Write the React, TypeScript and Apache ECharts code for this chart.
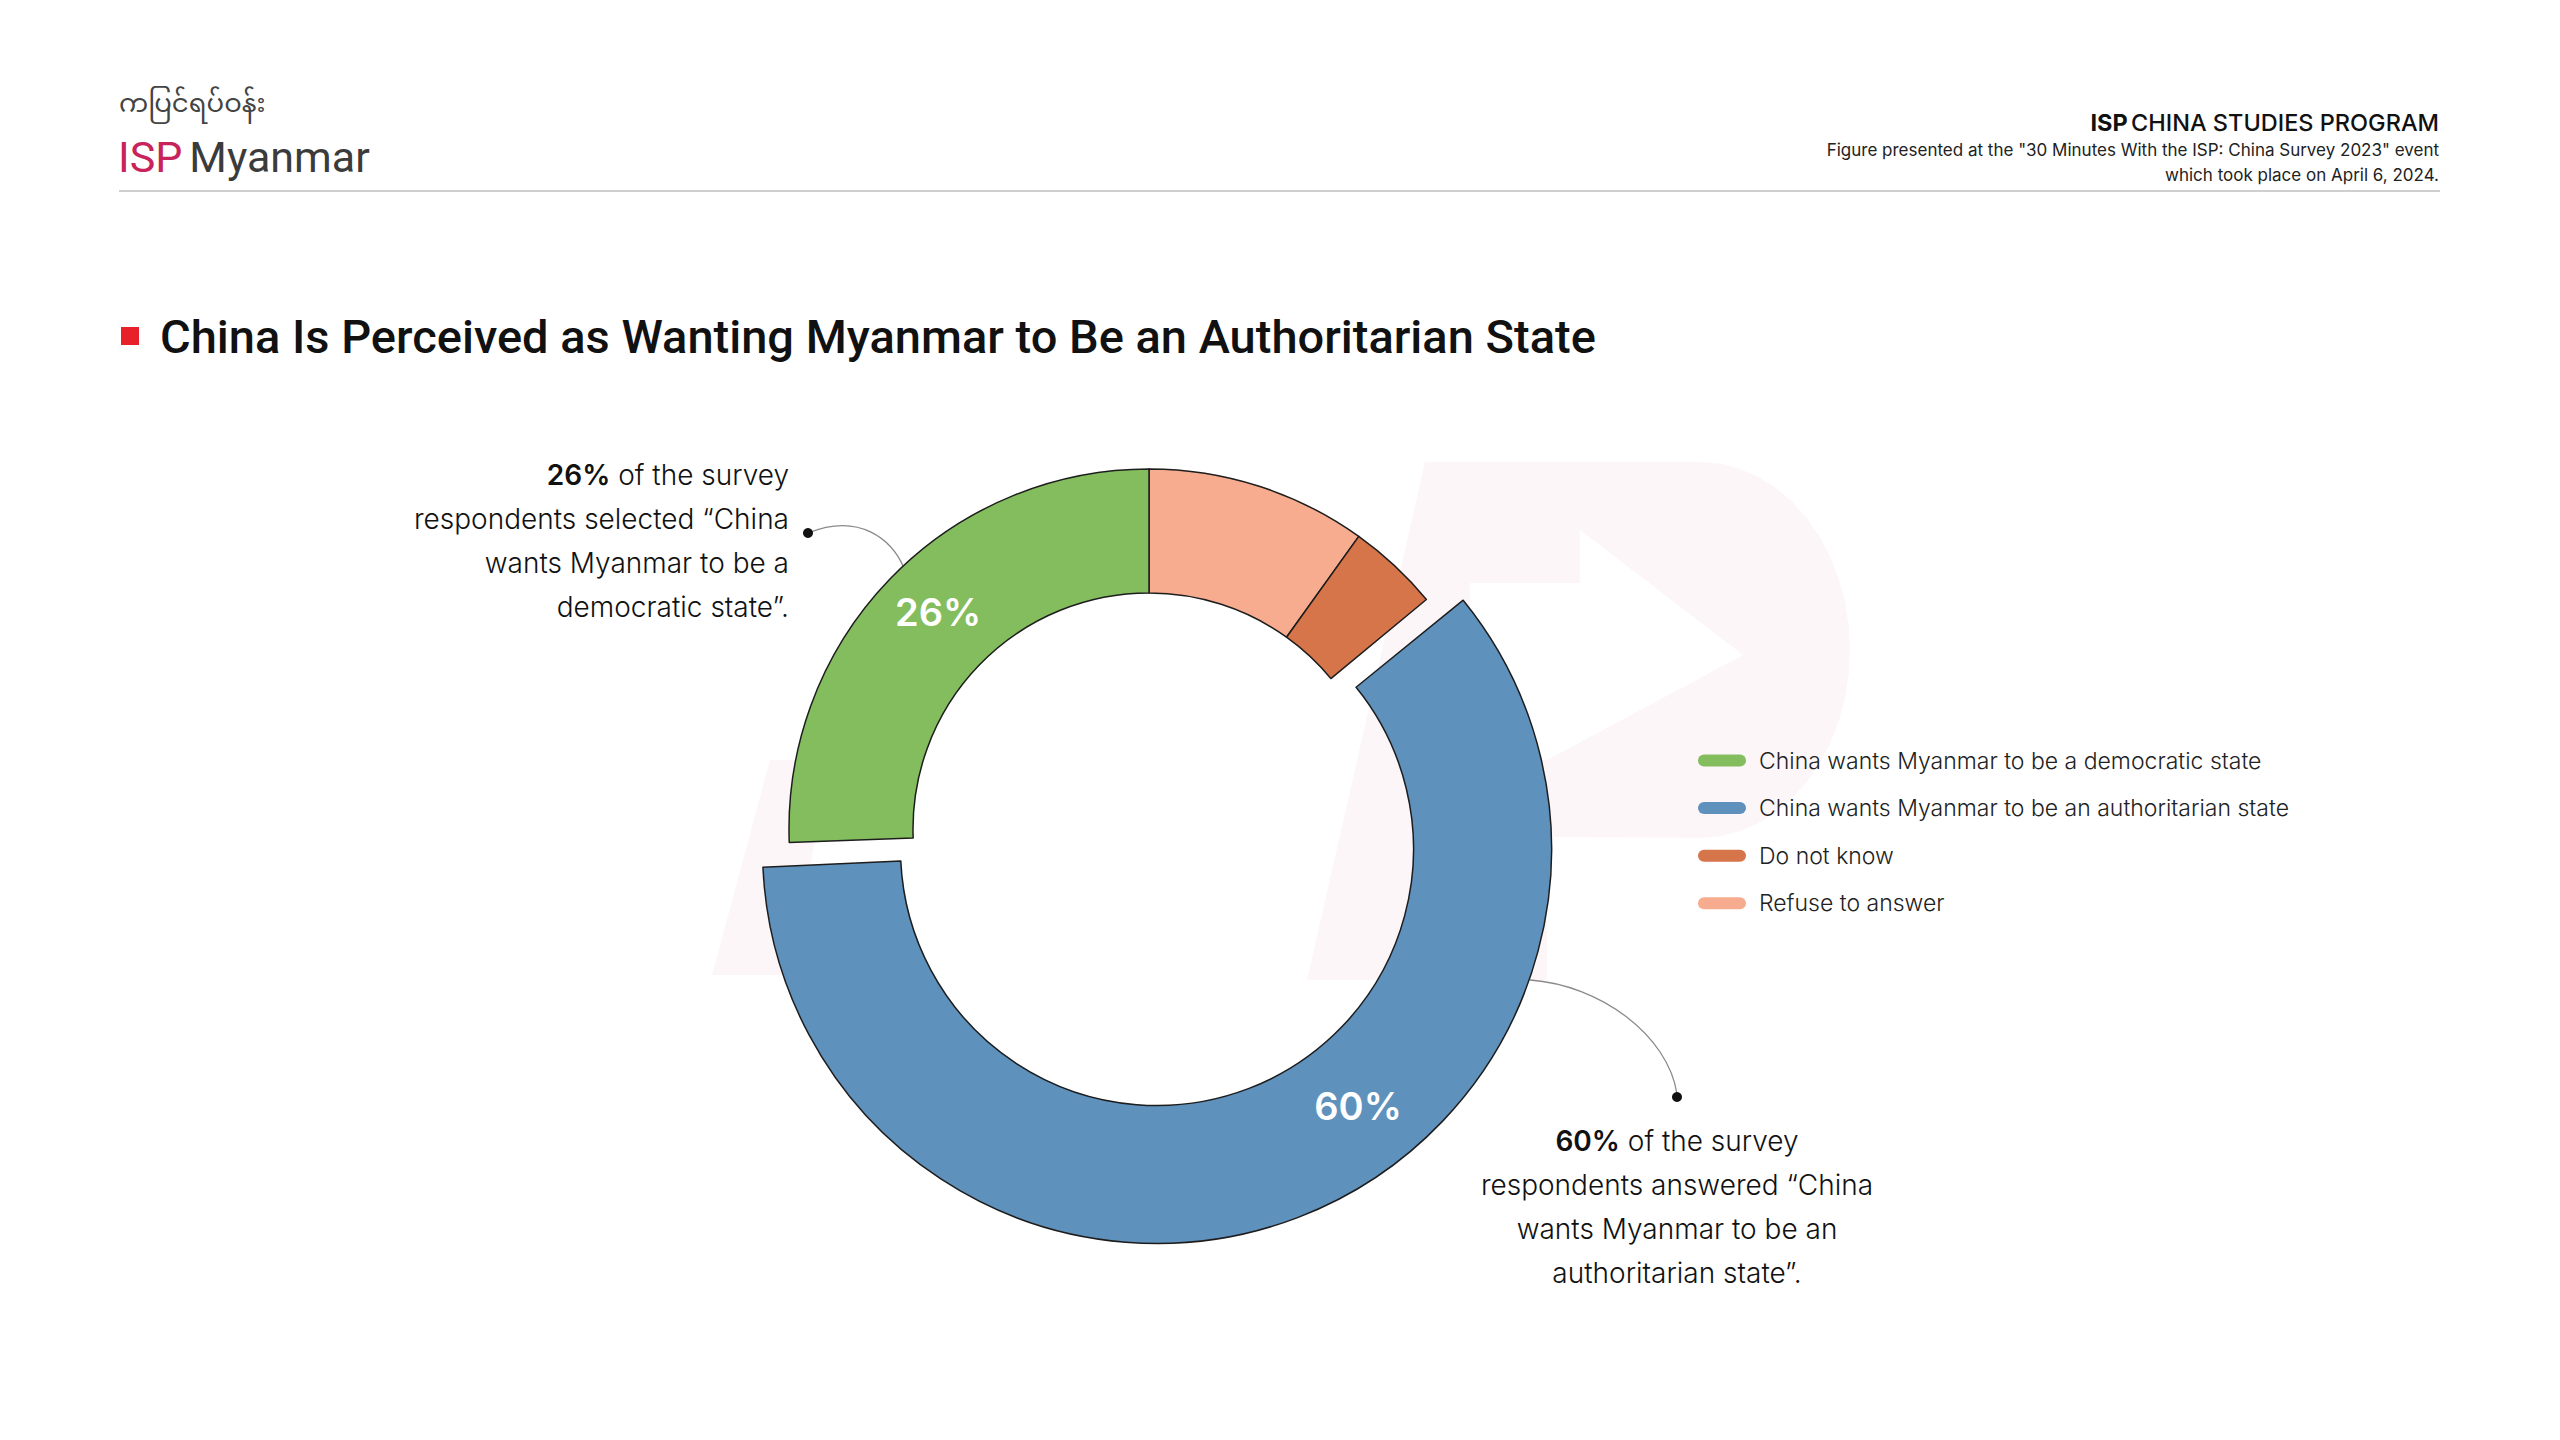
import React, { useEffect, useRef } from 'react';
import * as echarts from 'echarts';

// ---------- data ----------
const categories = [
  'Refuse to answer',
  'Do not know',
  'China wants Myanmar to be an authoritarian state',
  'China wants Myanmar to be a democratic state',
];
const values = [9.9, 4.1, 60.4, 25.6];
const valueLabels = ['10%', '4%', '60%', '26%'];
const showValueLabel = [false, false, true, true];
const colors = ['#f7ac8f', '#d6744a', '#5f91bd', '#84bd5e'];
const emphasizedIndex = 2;
const legendOrder = [
  'China wants Myanmar to be a democratic state',
  'China wants Myanmar to be an authoritarian state',
  'Do not know',
  'Refuse to answer',
];

const brandLocal = 'ကပြင်ရပ်ဝန်း';
const brandA = 'ISP';
const brandB = 'Myanmar';
const programBold = 'ISP';
const programRest = 'CHINA STUDIES PROGRAM';
const noteLine1 = 'Figure presented at the "30 Minutes With the ISP: China Survey 2023" event';
const noteLine2 = 'which took place on April 6, 2024.';
const chartTitle = 'China Is Perceived as Wanting Myanmar to Be an Authoritarian State';
const leftLead = '26%';
const leftLines = [' of the survey', 'respondents selected “China', 'wants Myanmar to be a', 'democratic state”.'];
const rightLead = '60%';
const rightLines = [' of the survey', 'respondents answered “China', 'wants Myanmar to be an', 'authoritarian state”.'];

const BODY_FONT = 'Inter, "Noto Sans", sans-serif';
const TITLE_FONT = 'Roboto, Inter, sans-serif';

function buildWatermark() {
  const pink = '#fdf6f8';
  const pts: number[][] = [];
  pts.push([1425, 462]);
  pts.push([1700, 462]);
  for (let k = 0; k <= 24; k++) {
    const a = -Math.PI / 2 + (Math.PI * k) / 24;
    pts.push([1700 + 150 * Math.cos(a), 650 + 188 * Math.sin(a)]);
  }
  pts.push([1547, 837]);
  pts.push([1547, 980]);
  pts.push([1307, 980]);
  return [
    { type: 'polygon', z: -10, silent: true, shape: { points: pts }, style: { fill: pink } },
    {
      type: 'polygon', z: -9, silent: true,
      shape: { points: [[1580, 530], [1743, 655], [1547, 760], [1470, 760], [1470, 583], [1580, 583]] },
      style: { fill: '#ffffff' },
    },
    {
      type: 'polygon', z: -10, silent: true,
      shape: { points: [[712, 975], [770, 760], [830, 760], [790, 975]] },
      style: { fill: pink },
    },
  ];
}

function buildGraphics() {
  const g: any[] = [...buildWatermark()];
  // brand
  g.push({
    type: 'text', x: 119, y: 106, silent: true,
    style: { text: brandLocal, fontSize: 26, fontFamily: '"Noto Sans Myanmar", Padauk, "Noto Sans", sans-serif', fill: '#444', textVerticalAlign: 'middle' },
  });
  g.push({
    type: 'text', x: 118, y: 157, silent: true,
    style: {
      text: `{a|${brandA}}{b|${brandB}}`, textVerticalAlign: 'middle',
      rich: {
        a: { fontSize: 43, fontFamily: TITLE_FONT, fill: '#c8235a' },
        b: { fontSize: 43, fontFamily: TITLE_FONT, fill: '#3b3b3b', padding: [0, 0, 0, 7] },
      },
    },
  });
  // separator
  g.push({ type: 'line', silent: true, shape: { x1: 119, y1: 191, x2: 2440, y2: 191 }, style: { stroke: '#cfcfcf', lineWidth: 2 } });
  // program header
  g.push({
    type: 'text', x: 2439, y: 122, silent: true,
    style: {
      text: `{a|${programBold}} {b|${programRest}}`, textAlign: 'right', textVerticalAlign: 'middle',
      rich: {
        a: { fontSize: 23.5, fontWeight: 700, fontFamily: BODY_FONT, fill: '#111' },
        b: { fontSize: 23.5, fontWeight: 500, fontFamily: BODY_FONT, fill: '#111' },
      },
    },
  });
  g.push({ type: 'text', x: 2439, y: 150, silent: true, style: { text: noteLine1, fontSize: 17, fontFamily: BODY_FONT, fill: '#222', textAlign: 'right', textVerticalAlign: 'middle' } });
  g.push({ type: 'text', x: 2439, y: 175, silent: true, style: { text: noteLine2, fontSize: 17, fontFamily: BODY_FONT, fill: '#222', textAlign: 'right', textVerticalAlign: 'middle' } });
  // title
  g.push({ type: 'rect', silent: true, shape: { x: 121, y: 327, width: 18, height: 18 }, style: { fill: '#e8202a' } });
  g.push({ type: 'text', x: 160, y: 336, silent: true, style: { text: chartTitle, fontSize: 47, fontWeight: 500, fontFamily: TITLE_FONT, fill: '#111', textVerticalAlign: 'middle' } });

  // left annotation
  const leftY = [475, 519, 563, 607];
  leftLines.forEach((line, i) => {
    g.push({
      type: 'text', x: 789, y: leftY[i], silent: true,
      style: i === 0
        ? {
          text: `{b|${leftLead}}{n|${line}}`, textAlign: 'right', textVerticalAlign: 'middle',
          rich: {
            b: { fontSize: 28, fontWeight: 600, fontFamily: BODY_FONT, fill: '#111' },
            n: { fontSize: 28, fontWeight: 300, fontFamily: BODY_FONT, fill: '#111' },
          },
        }
        : { text: line, fontSize: 28, fontWeight: 300, fontFamily: BODY_FONT, fill: '#111', textAlign: 'right', textVerticalAlign: 'middle' },
    });
  });
  g.push({ type: 'bezierCurve', silent: true, shape: { x1: 808, y1: 533, cpx1: 860, cpy1: 512, cpx2: 892, cpy2: 540, x2: 904, y2: 568 }, style: { stroke: '#8a8a8a', lineWidth: 1.3, fill: null } });
  g.push({ type: 'circle', silent: true, shape: { cx: 808, cy: 533, r: 5 }, style: { fill: '#111' } });

  // right annotation
  const rightY = [1141, 1185, 1229, 1273];
  rightLines.forEach((line, i) => {
    g.push({
      type: 'text', x: 1677, y: rightY[i], silent: true,
      style: i === 0
        ? {
          text: `{b|${rightLead}}{n|${line}}`, textAlign: 'center', textVerticalAlign: 'middle',
          rich: {
            b: { fontSize: 28, fontWeight: 600, fontFamily: BODY_FONT, fill: '#111' },
            n: { fontSize: 28, fontWeight: 300, fontFamily: BODY_FONT, fill: '#111' },
          },
        }
        : { text: line, fontSize: 28, fontWeight: 300, fontFamily: BODY_FONT, fill: '#111', textAlign: 'center', textVerticalAlign: 'middle' },
    });
  });
  g.push({ type: 'bezierCurve', silent: true, shape: { x1: 1530, y1: 980, cpx1: 1600, cpy1: 985, cpx2: 1668, cpy2: 1035, x2: 1677, y2: 1094 }, style: { stroke: '#8a8a8a', lineWidth: 1.3, fill: null } });
  g.push({ type: 'circle', silent: true, shape: { cx: 1677, cy: 1097, r: 5 }, style: { fill: '#111' } });
  return g;
}

const labelOffsets: Record<number, { dx: number; dy: number }> = {
  3: { dx: 6, dy: -8 },
  2: { dx: 84, dy: -50 },
};

function buildData(visibleFn: (i: number) => boolean) {
  return categories.map((name, i) => {
    const vis = visibleFn(i);
    return {
      name,
      value: values[i],
      itemStyle: vis
        ? { color: colors[i], borderColor: '#1d1d1d', borderWidth: 1.5 }
        : { color: 'rgba(0,0,0,0)', borderColor: 'rgba(0,0,0,0)', borderWidth: 0 },
      label: { show: vis && showValueLabel[i] },
    };
  });
}

const labelStyle = {
  show: true,
  position: 'inside',
  color: '#ffffff',
  fontSize: 38,
  fontWeight: 600,
  fontFamily: BODY_FONT,
  formatter: (p: any) => valueLabels[p.dataIndex],
};

export default function App() {
  const ref = useRef<HTMLDivElement>(null);
  useEffect(() => {
    document.body.style.margin = '0';
    document.body.style.overflow = 'hidden';
    if (!ref.current) return;
    const chart = echarts.init(ref.current, null, { renderer: 'svg' });
    chart.setOption({
      animation: false,
      backgroundColor: '#ffffff',
      legend: {
        orient: 'vertical',
        left: 1698,
        top: 749,
        padding: 0,
        itemGap: 24.6,
        itemWidth: 48,
        itemHeight: 12,
        selectedMode: false,
        icon: 'path://M6,0 L42,0 A6,6 0 0 1 42,12 L6,12 A6,6 0 0 1 6,0 Z',
        textStyle: { fontFamily: BODY_FONT, fontSize: 23, fontWeight: 300, color: '#222', padding: [0, 0, 0, 8] },
        data: legendOrder.map((n) => ({ name: n, itemStyle: { color: colors[categories.indexOf(n)], borderWidth: 0 } })),
      },
      graphic: { elements: buildGraphics() },
      series: [
        {
          type: 'pie',
          center: [1149, 829],
          radius: [236, 360],
          startAngle: 90,
          clockwise: true,
          silent: true,
          label: labelStyle,
          labelLine: { show: false },
          labelLayout: (p: any) => labelOffsets[p.dataIndex] || {},
          data: buildData((i) => i !== emphasizedIndex),
        },
        {
          type: 'pie',
          center: [1157, 849],
          radius: [256.5, 394.5],
          startAngle: 90,
          clockwise: true,
          padAngle: 1.0,
          silent: true,
          label: labelStyle,
          labelLine: { show: false },
          labelLayout: (p: any) => labelOffsets[p.dataIndex] || {},
          data: buildData((i) => i === emphasizedIndex),
        },
      ],
    });
    return () => chart.dispose();
  }, []);
  return <div ref={ref} style={{ width: 2560, height: 1440 }} />;
}
